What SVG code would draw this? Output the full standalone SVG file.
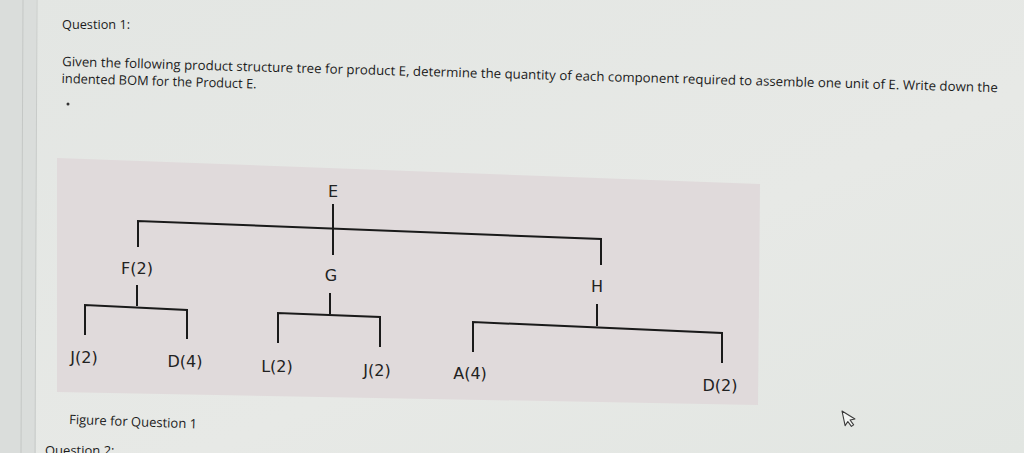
<svg xmlns="http://www.w3.org/2000/svg" width="1024" height="453" viewBox="0 0 1024 453">
  <defs>
    <linearGradient id="bg" x1="0" y1="0" x2="1" y2="1">
      <stop offset="0" stop-color="#e3e6e3"/>
      <stop offset="0.6" stop-color="#e7e9e6"/>
      <stop offset="1" stop-color="#e2e6e2"/>
    </linearGradient>
    <style>
      .body { font-family: "Open Sans", "Noto Sans", "Liberation Sans", sans-serif; font-size: 13px; fill: #1c1c1c; }
      .lbl { font-family: "DejaVu Sans", "Liberation Sans", sans-serif; font-size: 16px; fill: #222; text-anchor: middle; }
      .wire { fill: none; stroke: #1a1a1a; stroke-width: 2; stroke-linejoin: miter; }
    </style>
  </defs>

  <!-- background -->
  <rect width="1024" height="453" fill="url(#bg)"/>
  <rect x="0" y="0" width="36" height="453" fill="#dadddb"/>
  <line x1="23" y1="0" x2="21" y2="453" stroke="#c4c7c5" stroke-width="1"/>
  <line x1="37" y1="0" x2="35" y2="453" stroke="#c8cbc9" stroke-width="1"/>

  <!-- question text -->
  <text class="body" x="62" y="29" font-size="14" textLength="68" lengthAdjust="spacingAndGlyphs">Question 1:</text>
  <g transform="rotate(1.6 62 66)">
    <text class="body" x="62" y="66" textLength="936" lengthAdjust="spacingAndGlyphs">Given the following product structure tree for product E, determine the quantity of each component required to assemble one unit of E. Write down the</text>
    <text class="body" x="62" y="83" textLength="195" lengthAdjust="spacingAndGlyphs">indented BOM for the Product E.</text>
  </g>
  <circle cx="68" cy="104" r="1.5" fill="#333"/>

  <!-- figure panel -->
  <polygon points="57,158 760,184 758,405 57,392" fill="#e0dadb"/>

  <!-- connectors -->
  <g id="connectors">
    <path class="wire" d="M333,204 L333,255"/>
    <path class="wire" d="M138,247 L138,221 L601,239 L601,265"/>
    <path class="wire" d="M137,285 L137,306"/>
    <path class="wire" d="M85,335 L85,305 L187,310 L187,339"/>
    <path class="wire" d="M330,293 L330,314"/>
    <path class="wire" d="M278,343 L278,313 L380,317 L380,347"/>
    <path class="wire" d="M597,304 L597,326"/>
    <path class="wire" d="M473,352 L473,322 L722,333 L722,363"/>
  </g>

  <!-- nodes -->
  <g id="node-E"><text class="lbl" x="333" y="197">E</text></g>
  <g id="node-F"><text class="lbl" x="137" y="274">F(2)</text></g>
  <g id="node-G"><text class="lbl" x="331" y="281">G</text></g>
  <g id="node-H"><text class="lbl" x="597" y="292">H</text></g>
  <g id="node-J1"><text class="lbl" x="84" y="363">J(2)</text></g>
  <g id="node-D4"><text class="lbl" x="185" y="367">D(4)</text></g>
  <g id="node-L"><text class="lbl" x="277" y="372">L(2)</text></g>
  <g id="node-J2"><text class="lbl" x="377" y="376">J(2)</text></g>
  <g id="node-A"><text class="lbl" x="470" y="379">A(4)</text></g>
  <g id="node-D2"><text class="lbl" x="720" y="391">D(2)</text></g>

  <!-- caption -->
  <g transform="rotate(2 69 424)">
    <text class="body" x="69" y="424" textLength="128" lengthAdjust="spacingAndGlyphs">Figure for Question 1</text>
  </g>
  <text class="body" x="45" y="455">Question 2:</text>

  <!-- mouse pointer -->
  <path d="M0,0 L0,15 L3.5,11.5 L6,17 L8.5,16 L6,10.5 L11,10.5 Z" transform="translate(842,411) rotate(-12)" fill="#f4f6f4" stroke="#3a3a3a" stroke-width="1.1" stroke-linejoin="round"/>
</svg>
